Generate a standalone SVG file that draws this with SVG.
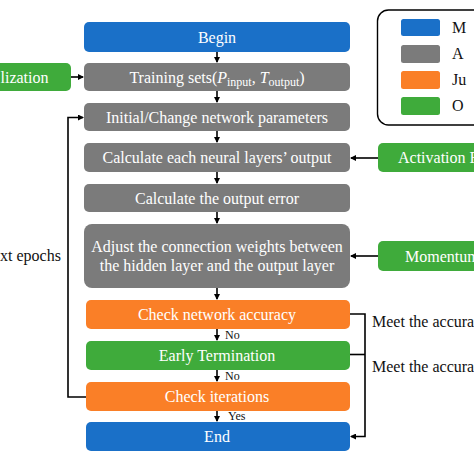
<svg xmlns="http://www.w3.org/2000/svg" width="474" height="474" viewBox="0 0 474 474">
<style>
.t{font-family:"Liberation Serif","Times New Roman",serif;font-size:16px;fill:#fff;text-anchor:middle}
.k{font-family:"Liberation Serif","Times New Roman",serif;font-size:16px;fill:#111}
.s{font-family:"Liberation Serif","Times New Roman",serif;font-size:12px;fill:#111}
.blue{fill:#1a70c8}.gray{fill:#7b7b7b}.orange{fill:#fa7f27}.green{fill:#3fab3b}
.ln{fill:none;stroke:#000;stroke-width:1.6}
</style>
<defs>
<marker id="ah" markerWidth="6" markerHeight="6" refX="5" refY="3" orient="auto" markerUnits="userSpaceOnUse">
<path d="M0,0 L6,3 L0,6 Z" fill="#000"/>
</marker>
</defs>
<rect width="474" height="474" fill="#fff"/>

<g id="legend">
<rect x="377.5" y="10" width="120" height="115" rx="11" fill="none" stroke="#000" stroke-width="1.4"/>
<rect class="blue" x="401" y="19" width="39" height="17" rx="2.5"/>
<rect class="gray" x="401" y="45" width="39" height="18" rx="2.5"/>
<rect class="orange" x="401" y="71" width="39" height="18" rx="2.5"/>
<rect class="green" x="401" y="97" width="39" height="18" rx="2.5"/>
<text class="k" x="452" y="33">M</text>
<text class="k" x="452" y="59">A</text>
<text class="k" x="452" y="85">Ju</text>
<text class="k" x="452" y="111">O</text>
</g>

<g id="begin"><rect class="blue" x="84" y="22" width="266" height="30" rx="5"/><text class="t" x="217" y="42.5">Begin</text></g>
<g id="training"><rect class="gray" x="84" y="63" width="266" height="28" rx="5"/><text class="t" x="217" y="82.5">Training sets(<tspan font-style="italic">P</tspan><tspan font-size="12" dy="3">input</tspan><tspan dy="-3">, </tspan><tspan font-style="italic">T</tspan><tspan font-size="12" dy="3">output</tspan><tspan dy="-3">)</tspan></text></g>
<g id="initial"><rect class="gray" x="84" y="103" width="266" height="28" rx="5"/><text class="t" x="217" y="122.5">Initial/Change network parameters</text></g>
<g id="calc-layers"><rect class="gray" x="84" y="143" width="266" height="29" rx="5"/><text class="t" x="217" y="163">Calculate each neural layers’ output</text></g>
<g id="calc-error"><rect class="gray" x="84" y="184" width="266" height="28" rx="5"/><text class="t" x="217" y="203.5">Calculate the output error</text></g>
<g id="adjust"><rect class="gray" x="84" y="224" width="266" height="64" rx="8"/><text class="t" x="217" y="252">Adjust the connection weights between</text><text class="t" x="217" y="271">the hidden layer and the output layer</text></g>
<g id="check-accuracy"><rect class="orange" x="86" y="300" width="264" height="29" rx="5"/><text class="t" x="217" y="320">Check network accuracy</text></g>
<g id="early-termination"><rect class="green" x="86" y="341" width="264" height="29" rx="5"/><text class="t" x="217" y="361">Early Termination</text></g>
<g id="check-iterations"><rect class="orange" x="86" y="382" width="264" height="29" rx="5"/><text class="t" x="217" y="402">Check iterations</text></g>
<g id="end"><rect class="blue" x="86" y="422" width="264" height="29" rx="5"/><text class="t" x="217" y="442">End</text></g>

<g id="normalization"><rect class="green" x="-40" y="63" width="111" height="28" rx="5"/><text class="t" x="0.5" y="82.5" style="text-anchor:start">lization</text></g>
<g id="activation"><rect class="green" x="378" y="143" width="120" height="29" rx="5"/><text class="t" x="398" y="163" style="text-anchor:start">Activation F</text></g>
<g id="momentum"><rect class="green" x="378" y="241" width="120" height="30" rx="5"/><text class="t" x="405" y="261.5" style="text-anchor:start">Momentum</text></g>

<g id="connectors">
<line class="ln" x1="217" y1="52" x2="217" y2="62" marker-end="url(#ah)"/>
<line class="ln" x1="217" y1="91" x2="217" y2="102" marker-end="url(#ah)"/>
<line class="ln" x1="217" y1="131" x2="217" y2="142" marker-end="url(#ah)"/>
<line class="ln" x1="217" y1="172" x2="217" y2="183" marker-end="url(#ah)"/>
<line class="ln" x1="217" y1="212" x2="217" y2="223" marker-end="url(#ah)"/>
<line class="ln" x1="217" y1="288" x2="217" y2="299" marker-end="url(#ah)"/>
<line class="ln" x1="217" y1="329" x2="217" y2="340" marker-end="url(#ah)"/>
<line class="ln" x1="217" y1="370" x2="217" y2="381" marker-end="url(#ah)"/>
<line class="ln" x1="217" y1="411" x2="217" y2="421" marker-end="url(#ah)"/>
<line class="ln" x1="71" y1="77" x2="83" y2="77" marker-end="url(#ah)"/>
<line class="ln" x1="378" y1="158" x2="351" y2="158" marker-end="url(#ah)"/>
<line class="ln" x1="378" y1="256" x2="351" y2="256" marker-end="url(#ah)"/>
<polyline class="ln" points="86,397 68,397 68,117.5 83,117.5" marker-end="url(#ah)"/>
<polyline class="ln" points="350,314 365,314 365,436.5 351,436.5" marker-end="url(#ah)"/>
<line class="ln" x1="350" y1="354.5" x2="365" y2="354.5"/>
<text class="s" x="225" y="339">No</text>
<text class="s" x="225" y="380">No</text>
<text class="s" x="228" y="420">Yes</text>
<text class="k" x="372" y="327">Meet the accura</text>
<text class="k" x="372" y="372">Meet the accura</text>
<text class="k" x="0" y="261">xt epochs</text>
</g>
</svg>
